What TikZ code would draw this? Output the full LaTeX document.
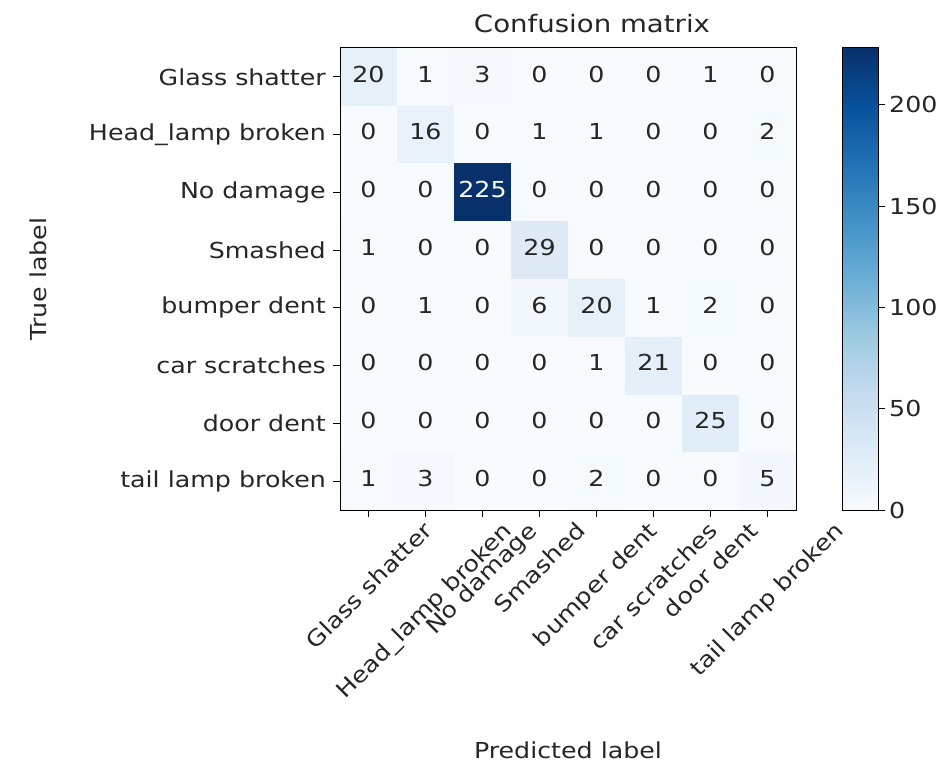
\documentclass[tikz,border=0pt]{standalone}
\usepackage{fontspec}
\setmainfont[FakeStretch=1.15]{DejaVu Sans}
\definecolor{B0}{RGB}{247,251,255}
\definecolor{B1}{RGB}{222,235,247}
\definecolor{B2}{RGB}{198,219,239}
\definecolor{B3}{RGB}{158,202,225}
\definecolor{B4}{RGB}{107,174,214}
\definecolor{B5}{RGB}{66,146,198}
\definecolor{B6}{RGB}{33,113,181}
\definecolor{B7}{RGB}{8,81,156}
\definecolor{B8}{RGB}{8,48,107}
\definecolor{txt}{RGB}{38,38,38}
\begin{document}
\begin{tikzpicture}[x=1pt,y=1pt,font=\fontsize{22}{24}\selectfont,
  lbl/.style={text=txt,inner sep=0pt},
  tick/.style={line width=1pt,black}]
\fill[white] (0,0) rectangle (942,-778);
\useasboundingbox (0,0) rectangle (942,-778);
\def\vals{{20,1,3,0,0,0,1,0, 0,16,0,1,1,0,0,2, 0,0,225,0,0,0,0,0, 1,0,0,29,0,0,0,0, 0,1,0,6,20,1,2,0, 0,0,0,0,1,21,0,0, 0,0,0,0,0,0,25,0, 1,3,0,0,2,0,0,5}}
\foreach \r in {0,...,7}{
 \foreach \c in {0,...,7}{
  \pgfmathtruncatemacro{\v}{\vals[\r*8+\c]}
  \pgfmathtruncatemacro{\p}{min(100,\v*3.5556)}
  \ifnum\v>200 \colorlet{cc}{B8}\else\colorlet{cc}{B1!\p!B0}\fi
  \pgfmathsetmacro{\xa}{340+57*\c}
  \pgfmathsetmacro{\ya}{-48-57.75*\r}
  \fill[cc] (\xa,\ya) rectangle ++(57,-57.75);
  \ifnum\v>112
   \node[text=white,inner sep=0pt] (n\r\c) at (\xa+28.5,\ya-26) {\v};
  \else
   \node[lbl] (n\r\c) at (\xa+28.5,\ya-26) {\v};
  \fi
 }}
\draw[line width=1pt] (340,-48) rectangle (796,-510);
\foreach \t [count=\i from 0] in {Glass shatter,Head\_lamp broken,No damage,Smashed,bumper dent,car scratches,door dent,tail lamp broken}{
  \pgfmathsetmacro{\yy}{-48-57.75*\i-28.9}
  \draw[tick] (333,\yy) -- (340,\yy);
  \node[lbl,anchor=east] (r\i) at (326,\yy) {\t};
  \pgfmathsetmacro{\xx}{368.5+57*\i}
  \draw[tick] (\xx,-510) -- (\xx,-517);
  \node[lbl,anchor=north] (c\i) at (\xx,-520) {\rotatebox{45}{\t}};
}
\node[lbl,font=\fontsize{24}{26}\selectfont] (title) at (592,-24) {Confusion matrix};
\node[lbl,rotate=90] (ylab) at (38,-279) {True label};
\node[lbl] (xlab) at (568,-750) {Predicted label};
\foreach \a/\b [count=\k from 0] in {B0/B1,B1/B2,B2/B3,B3/B4,B4/B5,B5/B6,B6/B7,B7/B8}{
  \pgfmathsetmacro{\yb}{-510+57.75*\k}
  \shade[bottom color=\a,top color=\b] (842,\yb) rectangle (878,\yb+57.9);
}
\draw[line width=1pt] (842,-48) rectangle (878,-510);
\foreach \v in {0,50,100,150,200}{
  \pgfmathsetmacro{\yy}{-510+\v*2.0263}
  \draw[tick] (878,\yy) -- (885,\yy);
  \node[lbl,anchor=west] (cb\v) at (889,\yy) {\v};
}
\end{tikzpicture}
\end{document}
